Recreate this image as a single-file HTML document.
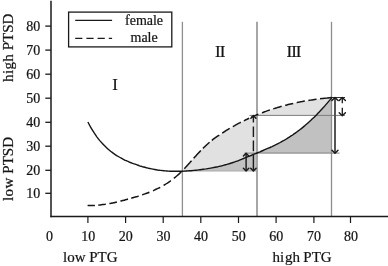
<!DOCTYPE html>
<html><head><meta charset="utf-8">
<title>PTSD and PTG by gender</title>
<style>
html,body{margin:0;padding:0;background:#fff;}
svg{display:block;}
text{font-family:"Liberation Serif",serif;fill:#151515;stroke:#151515;stroke-width:0.22;}
</style></head><body>
<svg width="388" height="266" viewBox="0 0 388 266">
<rect width="388" height="266" fill="#fff"/>
<path d="M182.0,171.1 C182.5,170.6 184.0,169.1 185.0,168.0 C186.0,166.9 187.0,165.8 188.0,164.7 C189.0,163.6 190.0,162.5 191.0,161.3 C192.0,160.2 193.0,159.0 194.0,157.9 C195.0,156.8 196.0,155.7 197.0,154.6 C198.0,153.5 199.0,152.4 200.0,151.4 C201.0,150.4 202.0,149.3 203.0,148.3 C204.0,147.4 205.0,146.4 206.0,145.5 C207.0,144.5 208.0,143.6 209.0,142.8 C210.0,141.9 211.0,141.1 212.0,140.3 C213.0,139.5 214.0,138.7 215.0,138.0 C216.0,137.3 217.0,136.6 218.0,135.9 C219.0,135.2 220.0,134.5 221.0,133.9 C222.0,133.2 223.0,132.6 224.0,131.9 C225.0,131.3 226.0,130.7 227.0,130.1 C228.0,129.4 229.0,128.8 230.0,128.3 C231.0,127.7 232.0,127.1 233.0,126.5 C234.0,125.9 235.0,125.4 236.0,124.8 C237.0,124.3 238.0,123.8 239.0,123.2 C240.0,122.7 241.0,122.2 242.0,121.7 C243.0,121.2 244.0,120.7 245.0,120.2 C246.0,119.7 247.0,119.2 248.0,118.7 C249.0,118.3 250.0,117.8 251.0,117.4 C252.0,116.9 253.0,116.5 254.0,116.0 C255.0,115.6 256.5,115.0 257.0,114.8 L257,153.0 C256.5,153.2 255.0,153.8 254.0,154.2 C253.0,154.6 252.0,155.0 251.0,155.5 C250.0,155.9 249.0,156.3 248.0,156.7 C247.0,157.1 246.0,157.5 245.0,157.9 C244.0,158.3 243.0,158.7 242.0,159.1 C241.0,159.5 240.0,159.9 239.0,160.3 C238.0,160.7 237.0,161.1 236.0,161.4 C235.0,161.8 234.0,162.2 233.0,162.5 C232.0,162.8 231.0,163.2 230.0,163.5 C229.0,163.8 228.0,164.1 227.0,164.4 C226.0,164.7 225.0,164.9 224.0,165.2 C223.0,165.5 222.0,165.7 221.0,166.0 C220.0,166.2 219.0,166.4 218.0,166.7 C217.0,166.9 216.0,167.1 215.0,167.3 C214.0,167.5 213.0,167.7 212.0,167.9 C211.0,168.1 210.0,168.2 209.0,168.4 C208.0,168.6 207.0,168.7 206.0,168.9 C205.0,169.0 204.0,169.2 203.0,169.3 C202.0,169.5 201.0,169.6 200.0,169.7 C199.0,169.8 198.0,170.0 197.0,170.1 C196.0,170.2 195.0,170.3 194.0,170.4 C193.0,170.5 192.0,170.6 191.0,170.7 C190.0,170.8 189.0,170.8 188.0,170.9 C187.0,171.0 186.0,171.0 185.0,171.1 C184.0,171.2 182.5,171.2 182.0,171.2 Z" fill="#e1e1e1"/>
<path d="M182.0,171.2 C182.5,171.2 184.0,171.2 185.0,171.1 C186.0,171.0 187.0,171.0 188.0,170.9 C189.0,170.8 190.0,170.8 191.0,170.7 C192.0,170.6 193.0,170.5 194.0,170.4 C195.0,170.3 196.0,170.2 197.0,170.1 C198.0,170.0 199.0,169.8 200.0,169.7 C201.0,169.6 202.0,169.5 203.0,169.3 C204.0,169.2 205.0,169.0 206.0,168.9 C207.0,168.7 208.0,168.6 209.0,168.4 C210.0,168.2 211.0,168.1 212.0,167.9 C213.0,167.7 214.0,167.5 215.0,167.3 C216.0,167.1 217.0,166.9 218.0,166.7 C219.0,166.4 220.0,166.2 221.0,166.0 C222.0,165.7 223.0,165.5 224.0,165.2 C225.0,164.9 226.0,164.7 227.0,164.4 C228.0,164.1 229.0,163.8 230.0,163.5 C231.0,163.2 232.0,162.8 233.0,162.5 C234.0,162.2 235.0,161.8 236.0,161.4 C237.0,161.1 238.0,160.7 239.0,160.3 C240.0,159.9 241.0,159.5 242.0,159.1 C243.0,158.7 244.0,158.3 245.0,157.9 C246.0,157.5 247.0,157.1 248.0,156.7 C249.0,156.3 250.0,155.9 251.0,155.5 C252.0,155.0 253.0,154.6 254.0,154.2 C255.0,153.8 256.5,153.2 257.0,153.0 L257,171.1 L182,171.1 Z" fill="#c1c1c1"/>
<path d="M257.0,114.8 C257.5,114.6 259.0,114.0 260.0,113.6 C261.0,113.2 262.0,112.8 263.0,112.4 C264.0,112.0 265.0,111.7 266.0,111.3 C267.0,110.9 268.0,110.6 269.0,110.2 C270.0,109.9 271.0,109.6 272.0,109.2 C273.0,108.9 274.0,108.6 275.0,108.3 C276.0,108.0 277.0,107.7 278.0,107.4 C279.0,107.1 280.0,106.8 281.0,106.5 C282.0,106.2 283.0,105.9 284.0,105.7 C285.0,105.4 286.0,105.1 287.0,104.9 C288.0,104.6 289.0,104.4 290.0,104.1 C291.0,103.9 292.0,103.7 293.0,103.5 C294.0,103.2 294.9,103.0 295.9,102.8 C296.9,102.6 297.9,102.4 298.9,102.2 C299.9,102.0 300.9,101.8 301.9,101.6 C302.9,101.4 303.9,101.2 304.9,101.0 C305.9,100.9 306.9,100.7 307.9,100.5 C308.9,100.4 309.9,100.2 310.9,100.1 C311.9,99.9 312.9,99.8 313.9,99.6 C314.9,99.5 315.9,99.3 316.9,99.2 C317.9,99.1 318.9,98.9 319.9,98.8 C320.9,98.7 321.9,98.6 322.9,98.5 C323.9,98.4 324.9,98.3 325.9,98.2 C326.9,98.0 327.9,97.9 328.9,97.9 C329.9,97.8 331.4,97.6 331.9,97.6 L331.9,115.4 L257,115.4 Z" fill="#e1e1e1"/>
<path d="M257.0,153.0 C257.5,152.8 259.0,152.2 260.0,151.8 C261.0,151.3 262.0,150.9 263.0,150.5 C264.0,150.1 265.0,149.7 266.0,149.2 C267.0,148.8 268.0,148.4 269.0,147.9 C270.0,147.5 271.0,147.0 272.0,146.6 C273.0,146.1 274.0,145.6 275.0,145.1 C276.0,144.7 277.0,144.2 278.0,143.6 C279.0,143.1 280.0,142.6 281.0,142.0 C282.0,141.5 283.0,140.9 284.0,140.4 C285.0,139.8 286.0,139.2 287.0,138.6 C288.0,138.0 289.0,137.3 290.0,136.7 C291.0,136.0 292.0,135.4 293.0,134.7 C294.0,134.0 294.9,133.3 295.9,132.6 C296.9,131.9 297.9,131.1 298.9,130.4 C299.9,129.6 300.9,128.9 301.9,128.1 C302.9,127.3 303.9,126.4 304.9,125.6 C305.9,124.7 306.9,123.9 307.9,123.0 C308.9,122.1 309.9,121.2 310.9,120.3 C311.9,119.3 312.9,118.4 313.9,117.4 C314.9,116.4 315.9,115.4 316.9,114.4 C317.9,113.4 318.9,112.3 319.9,111.3 C320.9,110.2 321.9,109.1 322.9,108.0 C323.9,106.9 324.9,105.8 325.9,104.6 C326.9,103.5 327.9,102.3 328.9,101.1 C329.9,100.0 331.4,98.2 331.9,97.6 L331.9,153.1 L257,153.1 Z" fill="#c1c1c1"/>
<g stroke="#8e8e8e" stroke-width="1.3">
<line x1="182.4" y1="21.8" x2="182.4" y2="216"/>
<line x1="257" y1="21.8" x2="257" y2="216" stroke="#a6a6a6" stroke-width="2"/>
<line x1="331.5" y1="21.8" x2="331.5" y2="216"/>
</g>
<g stroke="#7d7d7d" stroke-width="1">
<line x1="249.5" y1="115.4" x2="345" y2="115.4"/>
<line x1="244.5" y1="153.1" x2="339.5" y2="153.1"/>
<line x1="184" y1="171" x2="257" y2="171" stroke="#aaa"/>
</g>
<g stroke="#1a1a1a" stroke-width="1.5" fill="none">
<line x1="51" y1="0.8" x2="51" y2="217.3"/>
<line x1="50.4" y1="216.6" x2="388" y2="216.6"/>
<line x1="45.3" y1="26.1" x2="51" y2="26.1" stroke-width="1.3"/>
<line x1="45.3" y1="50.1" x2="51" y2="50.1" stroke-width="1.3"/>
<line x1="45.3" y1="74.2" x2="51" y2="74.2" stroke-width="1.3"/>
<line x1="45.3" y1="98.2" x2="51" y2="98.2" stroke-width="1.3"/>
<line x1="45.3" y1="122.3" x2="51" y2="122.3" stroke-width="1.3"/>
<line x1="45.3" y1="146.2" x2="51" y2="146.2" stroke-width="1.3"/>
<line x1="45.3" y1="170.3" x2="51" y2="170.3" stroke-width="1.3"/>
<line x1="45.3" y1="193.3" x2="51" y2="193.3" stroke-width="1.3"/>
<line x1="87.9" y1="216.6" x2="87.9" y2="223" stroke-width="1.2"/>
<line x1="125.6" y1="216.6" x2="125.6" y2="223" stroke-width="1.2"/>
<line x1="163.2" y1="216.6" x2="163.2" y2="223" stroke-width="1.2"/>
<line x1="200.8" y1="216.6" x2="200.8" y2="223" stroke-width="1.2"/>
<line x1="238.5" y1="216.6" x2="238.5" y2="223" stroke-width="1.2"/>
<line x1="276.1" y1="216.6" x2="276.1" y2="223" stroke-width="1.2"/>
<line x1="313.9" y1="216.6" x2="313.9" y2="223" stroke-width="1.2"/>
<line x1="350.5" y1="216.6" x2="350.5" y2="223" stroke-width="1.2"/>
</g>
<path d="M87.9,122.0 C88.4,123.0 89.9,125.9 90.9,127.7 C91.9,129.5 93.0,131.1 94.0,132.7 C95.0,134.2 96.0,135.7 97.0,137.1 C98.0,138.4 99.0,139.7 100.0,140.9 C101.1,142.1 102.1,143.2 103.1,144.3 C104.1,145.4 105.1,146.4 106.1,147.3 C107.1,148.3 108.1,149.2 109.1,150.0 C110.2,150.9 111.2,151.7 112.2,152.4 C113.2,153.2 114.2,153.9 115.2,154.6 C116.2,155.3 117.2,155.9 118.3,156.5 C119.3,157.1 120.3,157.7 121.3,158.2 C122.3,158.8 123.3,159.3 124.3,159.8 C125.3,160.3 126.3,160.7 127.4,161.2 C128.4,161.6 129.4,162.1 130.4,162.5 C131.4,162.9 132.4,163.3 133.4,163.7 C134.4,164.0 135.5,164.4 136.5,164.7 C137.5,165.1 138.5,165.4 139.5,165.8 C140.5,166.1 141.5,166.4 142.5,166.7 C143.6,167.0 144.6,167.2 145.6,167.5 C146.6,167.8 147.6,168.0 148.6,168.3 C149.6,168.5 150.6,168.7 151.6,168.9 C152.7,169.1 153.7,169.3 154.7,169.5 C155.7,169.7 156.7,169.8 157.7,170.0 C158.7,170.1 159.7,170.3 160.8,170.4 C161.8,170.5 162.8,170.6 163.8,170.7 C164.8,170.8 165.8,170.9 166.8,171.0 C167.8,171.1 168.8,171.1 169.9,171.2 C170.9,171.2 171.9,171.3 172.9,171.3 C173.9,171.3 174.9,171.3 175.9,171.3 C176.9,171.3 178.0,171.3 179.0,171.3 C180.0,171.3 181.0,171.3 182.0,171.2 C183.0,171.2 184.0,171.2 185.0,171.1 C186.0,171.0 187.0,171.0 188.0,170.9 C189.0,170.8 190.0,170.8 191.0,170.7 C192.0,170.6 193.0,170.5 194.0,170.4 C195.0,170.3 196.0,170.2 197.0,170.1 C198.0,170.0 199.0,169.8 200.0,169.7 C201.0,169.6 202.0,169.5 203.0,169.3 C204.0,169.2 205.0,169.0 206.0,168.9 C207.0,168.7 208.0,168.6 209.0,168.4 C210.0,168.2 211.0,168.1 212.0,167.9 C213.0,167.7 214.0,167.5 215.0,167.3 C216.0,167.1 217.0,166.9 218.0,166.7 C219.0,166.4 220.0,166.2 221.0,166.0 C222.0,165.7 223.0,165.5 224.0,165.2 C225.0,164.9 226.0,164.7 227.0,164.4 C228.0,164.1 229.0,163.8 230.0,163.5 C231.0,163.2 232.0,162.8 233.0,162.5 C234.0,162.2 235.0,161.8 236.0,161.4 C237.0,161.1 238.0,160.7 239.0,160.3 C240.0,159.9 241.0,159.5 242.0,159.1 C243.0,158.7 244.0,158.3 245.0,157.9 C246.0,157.5 247.0,157.1 248.0,156.7 C249.0,156.3 250.0,155.9 251.0,155.5 C252.0,155.0 253.0,154.6 254.0,154.2 C255.0,153.8 256.0,153.4 257.0,153.0 C258.0,152.6 259.0,152.2 260.0,151.8 C261.0,151.3 262.0,150.9 263.0,150.5 C264.0,150.1 265.0,149.7 266.0,149.2 C267.0,148.8 268.0,148.4 269.0,147.9 C270.0,147.5 271.0,147.0 272.0,146.6 C273.0,146.1 274.0,145.6 275.0,145.1 C276.0,144.7 277.0,144.2 278.0,143.6 C279.0,143.1 280.0,142.6 281.0,142.0 C282.0,141.5 283.0,140.9 284.0,140.4 C285.0,139.8 286.0,139.2 287.0,138.6 C288.0,138.0 289.0,137.3 290.0,136.7 C291.0,136.0 292.0,135.4 293.0,134.7 C294.0,134.0 294.9,133.3 295.9,132.6 C296.9,131.9 297.9,131.1 298.9,130.4 C299.9,129.6 300.9,128.9 301.9,128.1 C302.9,127.3 303.9,126.4 304.9,125.6 C305.9,124.7 306.9,123.9 307.9,123.0 C308.9,122.1 309.9,121.2 310.9,120.3 C311.9,119.3 312.9,118.4 313.9,117.4 C314.9,116.4 315.9,115.4 316.9,114.4 C317.9,113.4 318.9,112.3 319.9,111.3 C320.9,110.2 321.9,109.1 322.9,108.0 C323.9,106.9 324.9,105.8 325.9,104.6 C326.9,103.5 327.9,102.3 328.9,101.1 C329.9,100.0 331.4,98.2 331.9,97.6" fill="none" stroke="#151515" stroke-width="1.4"/>
<path d="M87.6,205.5 C88.0,205.5 89.3,205.5 90.1,205.5 C90.9,205.5 91.8,205.5 92.6,205.5 C93.4,205.4 94.2,205.4 95.1,205.4 C95.9,205.3 96.7,205.2 97.6,205.2 C98.4,205.1 99.2,205.0 100.1,204.9 C100.9,204.8 101.7,204.7 102.6,204.6 C103.4,204.5 104.2,204.4 105.0,204.3 C105.9,204.1 106.7,204.0 107.5,203.9 C108.4,203.7 109.2,203.6 110.0,203.4 C110.9,203.2 111.7,203.1 112.5,202.9 C113.4,202.7 114.2,202.6 115.0,202.4 C115.9,202.2 116.7,202.0 117.5,201.8 C118.3,201.6 119.2,201.4 120.0,201.2 C120.8,201.0 121.7,200.8 122.5,200.6 C123.3,200.4 124.2,200.1 125.0,199.9 C125.8,199.7 126.7,199.5 127.5,199.2 C128.3,199.0 129.1,198.8 130.0,198.5 C130.8,198.3 131.6,198.1 132.5,197.8 C133.3,197.6 134.1,197.3 135.0,197.1 C135.8,196.9 136.6,196.6 137.5,196.4 C138.3,196.1 139.1,195.8 139.9,195.6 C140.8,195.3 141.6,195.0 142.4,194.8 C143.3,194.5 144.1,194.2 144.9,193.9 C145.8,193.6 146.6,193.3 147.4,193.0 C148.3,192.7 149.1,192.4 149.9,192.0 C150.8,191.7 151.6,191.4 152.4,191.0 C153.2,190.7 154.1,190.3 154.9,189.9 C155.7,189.5 156.6,189.1 157.4,188.7 C158.2,188.3 159.1,187.9 159.9,187.5 C160.7,187.0 161.6,186.6 162.4,186.1 C163.2,185.6 164.0,185.2 164.9,184.6 C165.7,184.1 166.5,183.6 167.4,183.1 C168.2,182.5 169.0,182.0 169.9,181.4 C170.7,180.8 171.5,180.2 172.4,179.6 C173.2,178.9 174.0,178.3 174.8,177.6 C175.7,176.9 176.5,176.2 177.3,175.5 C178.2,174.8 179.0,174.0 179.8,173.2 C180.7,172.5 181.5,171.6 182.3,170.8 C183.2,170.0 184.0,169.1 184.8,168.2 C185.7,167.3 186.5,166.4 187.3,165.5 C188.1,164.6 189.0,163.6 189.8,162.7 C190.6,161.7 191.5,160.8 192.3,159.8 C193.1,158.9 194.0,158.0 194.8,157.0 C195.6,156.1 196.5,155.2 197.3,154.3 C198.1,153.4 198.9,152.5 199.8,151.6 C200.6,150.8 201.4,149.9 202.3,149.1 C203.1,148.2 203.9,147.4 204.8,146.6 C205.6,145.8 206.4,145.1 207.3,144.3 C208.1,143.6 208.9,142.8 209.8,142.1 C210.6,141.4 211.4,140.7 212.2,140.1 C213.1,139.4 213.9,138.8 214.7,138.2 C215.6,137.6 216.4,137.0 217.2,136.4 C218.1,135.8 218.9,135.3 219.7,134.7 C220.6,134.1 221.4,133.6 222.2,133.1 C223.0,132.5 223.9,132.0 224.7,131.5 C225.5,131.0 226.4,130.4 227.2,129.9 C228.0,129.4 228.9,128.9 229.7,128.4 C230.5,127.9 231.4,127.5 232.2,127.0 C233.0,126.5 233.8,126.0 234.7,125.6 C235.5,125.1 236.3,124.7 237.2,124.2 C238.0,123.8 238.8,123.3 239.7,122.9 C240.5,122.4 241.3,122.0 242.2,121.6 C243.0,121.2 243.8,120.8 244.7,120.4 C245.5,119.9 246.3,119.5 247.1,119.2 C248.0,118.8 248.8,118.4 249.6,118.0 C250.5,117.6 251.3,117.2 252.1,116.9 C253.0,116.5 253.8,116.1 254.6,115.8 C255.5,115.4 256.3,115.1 257.1,114.7 C257.9,114.4 258.8,114.1 259.6,113.7 C260.4,113.4 261.3,113.1 262.1,112.8 C262.9,112.4 263.8,112.1 264.6,111.8 C265.4,111.5 266.3,111.2 267.1,110.9 C267.9,110.6 268.7,110.3 269.6,110.0 C270.4,109.8 271.2,109.5 272.1,109.2 C272.9,108.9 273.7,108.7 274.6,108.4 C275.4,108.1 276.2,107.9 277.1,107.6 C277.9,107.4 278.7,107.1 279.5,106.9 C280.4,106.7 281.2,106.4 282.0,106.2 C282.9,106.0 283.7,105.7 284.5,105.5 C285.4,105.3 286.2,105.1 287.0,104.9 C287.9,104.7 288.7,104.5 289.5,104.3 C290.4,104.1 291.2,103.9 292.0,103.7 C292.8,103.5 293.7,103.3 294.5,103.1 C295.3,102.9 296.2,102.7 297.0,102.6 C297.8,102.4 298.7,102.2 299.5,102.1 C300.3,101.9 301.2,101.7 302.0,101.6 C302.8,101.4 303.6,101.3 304.5,101.1 C305.3,101.0 306.1,100.8 307.0,100.7 C307.8,100.6 308.6,100.4 309.5,100.3 C310.3,100.2 311.1,100.0 312.0,99.9 C312.8,99.8 313.6,99.7 314.4,99.5 C315.3,99.4 316.1,99.3 316.9,99.2 C317.8,99.1 318.6,99.0 319.4,98.9 C320.3,98.8 321.1,98.7 321.9,98.6 C322.8,98.5 323.6,98.4 324.4,98.3 C325.3,98.2 326.1,98.1 326.9,98.1 C327.7,98.0 328.6,97.9 329.4,97.8 C330.2,97.7 331.5,97.6 331.9,97.6" fill="none" stroke="#151515" stroke-width="1.5" stroke-dasharray="7.3 3.3 7.7 3.6 7.7 3.6 7.9 3.4 7.6 3.7 7.7 4.0 7.9 4.0 8.6 3.9 9.7 4.4 10.8 3.2 10.6 3.0 9.0 2.9 9.2 3.5 8.9 3.6 9.1 3.4 5.8 2.3 7.8 3.9 8.4 3.6 8.7 3.6 8.3 3.6 8.3 3.6 8.2 3.5 12.4 50.0"/>
<g stroke="#1a1a1a" stroke-width="1.45" fill="none" stroke-linecap="round" stroke-linejoin="round">
<line x1="246.1" y1="153.6" x2="246.1" y2="170.6" stroke-linecap="butt"/>
<path d="M243.4,156 L246.1,153.2 L248.8,156 M243.4,168.2 L246.1,171 L248.8,168.2"/>
<line x1="253.4" y1="116" x2="253.4" y2="170.8" stroke-dasharray="6.5 3.9 10.6 3.5 10.7 3.2 20" stroke-width="1.4" stroke-linecap="butt"/>
<path d="M250.9,118.2 L253.4,115.6 L255.9,118.2 M250.7,168.2 L253.4,171 L256.1,168.2"/>
<line x1="335" y1="98" x2="335" y2="153" stroke="#4d4d4d" stroke-width="1.9" stroke-linecap="butt"/>
<path d="M331.9,100.5 L335,97.6 L338.1,100.5 M332,150.2 L335,153.3 L338,150.2"/>
<line x1="328.5" y1="97.5" x2="345" y2="97.5" stroke-width="0.9" stroke-linecap="butt"/>
<line x1="342.3" y1="98" x2="342.3" y2="115.6" stroke-dasharray="5.3 4.5 9" stroke-width="1.3" stroke-linecap="butt"/>
<path d="M339.2,100.6 L342.3,97.6 L345.4,100.6 M339.2,112.8 L342.3,115.8 L345.4,112.8"/>
</g>
<rect x="68.6" y="12.1" width="103.2" height="34.8" fill="#fff" stroke="#1a1a1a" stroke-width="1.3"/>
<line x1="75.2" y1="20.4" x2="112.1" y2="20.4" stroke="#1a1a1a" stroke-width="1.3"/>
<line x1="75.2" y1="38.3" x2="112.1" y2="38.3" stroke="#1a1a1a" stroke-width="1.2" stroke-dasharray="7.2,4"/>
<text x="125" y="24.9" font-size="14">female</text>
<text x="130.5" y="42" font-size="14">male</text>
<g font-size="14" text-anchor="end">
<text x="40.3" y="30.8">80</text>
<text x="40.3" y="54.8">70</text>
<text x="40.3" y="78.9">60</text>
<text x="40.3" y="102.9">50</text>
<text x="40.3" y="127.0">40</text>
<text x="40.3" y="150.9">30</text>
<text x="40.3" y="175.0">20</text>
<text x="40.3" y="198.0">10</text>
</g><g font-size="14" text-anchor="middle">
<text x="49.5" y="240.7">0</text>
<text x="88.2" y="240.7">10</text>
<text x="125.8" y="240.7">20</text>
<text x="163.4" y="240.7">30</text>
<text x="201.0" y="240.7">40</text>
<text x="238.7" y="240.7">50</text>
<text x="276.2" y="240.7">60</text>
<text x="314.1" y="240.7">70</text>
<text x="351.0" y="240.7">80</text>
</g>
<text y="262.4" font-size="15"><tspan x="63">low</tspan> <tspan x="89.2">PTG</tspan></text>
<text y="262.4" font-size="15"><tspan x="272.4">hi</tspan><tspan dx="1">gh</tspan> <tspan x="303.3">PTG</tspan></text>
<text transform="translate(12.6,201) rotate(-90)" font-size="15"><tspan x="0" letter-spacing="0.4">low</tspan> <tspan x="27.3">PTSD</tspan></text>
<text transform="translate(12.6,82) rotate(-90)" font-size="15"><tspan x="0" letter-spacing="0.4">high</tspan> <tspan x="31.7">PTSD</tspan></text>
<g font-size="17" text-anchor="middle" letter-spacing="-1">
<text x="114.6" y="89.6">I</text>
<text x="219.7" y="57.1">II</text>
<text x="293.5" y="57.1">III</text>
</g>
</svg>
</body></html>
